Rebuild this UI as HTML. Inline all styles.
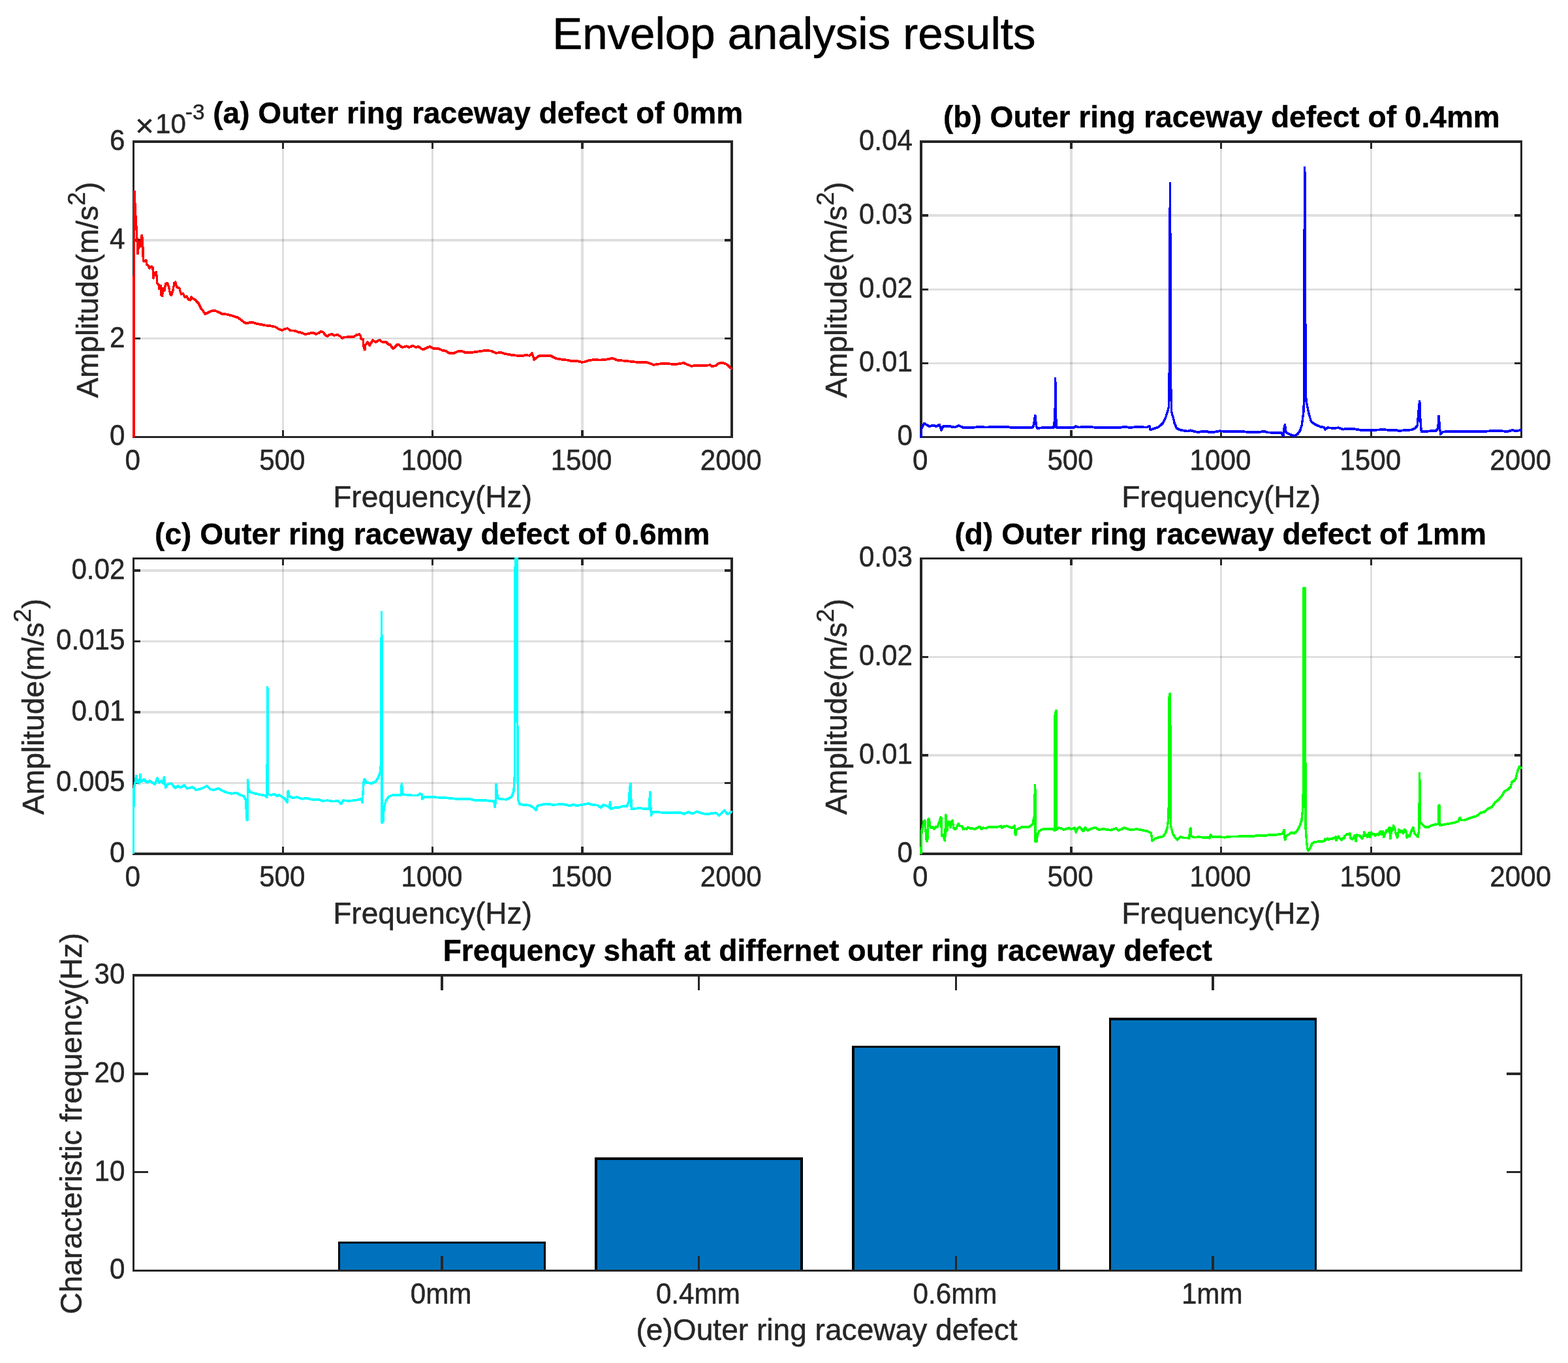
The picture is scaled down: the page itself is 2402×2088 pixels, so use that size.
<!DOCTYPE html>
<html lang="en"><head><meta charset="utf-8"><title>Envelop analysis results</title>
<style>
html,body{margin:0;padding:0;background:#fff;}
body{width:2402px;height:2088px;}
svg{display:block;}
text{font-family:"Liberation Sans",sans-serif;fill:#262626;stroke:#262626;stroke-width:0.5px;stroke-linejoin:round;}
.tk{font-size:42.20px;}
.lb{font-size:46.10px;}
.tt{font-size:46.10px;font-weight:bold;fill:#000;stroke:#000;stroke-width:0.4px;}
.st{font-size:69.00px;fill:#000;stroke:#000;stroke-width:0.7px;}
.sp{font-size:33.40px;}
.sl{font-size:37.50px;}
.ax{fill:#262626;shape-rendering:crispEdges;}
.gr{fill:#262626;fill-opacity:0.15;shape-rendering:crispEdges;}
.cv{fill:none;stroke-width:3.8;stroke-linejoin:round;stroke-linecap:round;shape-rendering:crispEdges;}
.cs{fill:none;stroke-width:3.4;stroke-linejoin:bevel;stroke-linecap:round;shape-rendering:crispEdges;}
</style></head><body>
<svg width="2402" height="2088" viewBox="0 0 2402 2088" role="img" aria-label="Envelop analysis results">
<rect x="0" y="0" width="2402" height="2088" fill="#ffffff"/>
<text class="st" x="846.2" y="75">Envelop analysis results</text>
<g id="plot-a">
<path class="gr" d="M432 219H435V668H432ZM661 219H664V668H661ZM890 219H894V668H890Z"/>
<path class="gr" d="M206 517H1119V520H206ZM206 366H1119V370H206Z"/>
<path class="ax" d="M203 215H1123V219H203ZM203 668H1123V671H203ZM203 215H206V671H203ZM1119 215H1123V671H1119ZM432 659H435V668H432ZM432 219H435V228H432ZM661 659H664V668H661ZM661 219H664V228H661ZM890 659H894V668H890ZM890 219H894V228H890ZM206 517H215V520H206ZM1110 517H1119V520H1110ZM206 366H215V370H206ZM1110 366H1119V370H1110Z"/>
<clipPath id="clip-a"><rect x="203" y="215" width="920" height="456"/></clipPath>
<g clip-path="url(#clip-a)">
<path class="cv" stroke="#ff0000" d="M219.8 400L221.8 400.5L223.8 398.9M224.6 405L227.4 407.2L229 411.1L232.4 408.3L234.1 410M236.9 418.4L239.1 416.7M240.8 434L243 436.2M246.9 451.9L248.6 453.5M249.7 441.8L251.9 445.2M253.6 434.6L256.4 433.5L258.6 439.6M260.8 450.8L262.5 451.9L264.8 445.2M267 433.5L268.7 432.3M270.9 439.6L274.8 441.8M277.6 450.8L280.4 449.6L283.2 455.2L286 454.1L288.8 458.6L291.5 459.7L293 455.2L296 457.5L299.4 459.7L303.8 464.2L307.7 472L311.1 476.4L314.4 481.2L320 478.1L326.2 475.6L330 475.9L337.5 479.6L340 480.7L347.4 481.6L356.8 484L364.2 486.4L369.8 490.5L375.4 494.8L380 494.8L384.7 493.7L389.4 494.6L394 496.1L399.6 496.9L404.2 498.2L410.8 498.9L416.4 499.6L421.9 500.8L427.5 504.5L432.2 505.8L436.8 503.7L440.6 503.2L445.2 506.4L451.7 506.7L456.4 508.6L462 509.7L467.6 512.1L472.2 511.2L476.9 509.9L480.6 510.1L484.3 511.9L489 509.7L491.8 507.8L494.9 508.6L497.9 512.9L501.1 515.3L504.8 512.7L508.5 511.9L512.3 513.8L516.9 512.7L520.6 514.9L524.4 517.9L528.1 516.6L533.7 516.2L542.1 515.7L545.8 513.4L550.4 511.9L552.3 514.7L553.2 519.4L556 519.4M559.7 528.7L563.1 524L566.3 529.1L570.9 521.3L575.6 524L581.2 520.9L585.8 524L591.4 524L595.1 527.4L597.9 528.3L601.6 533.9L604.4 532.8L608.2 527.8L611 528.1L615.6 531.9L619.3 531.5L622.5 530.2L626.8 532.1L632.4 529.6L637 532.1L640.8 530.9L646.3 534.8L650.1 534.8L654.7 532.4L658.4 530.9L664 533.7L670.6 533.7L677.1 536.5L682.7 537.6L688.2 541L694.8 541.2L702.2 538L706.9 537.6L712.5 539.9L721.8 539.9L724.7 539.6L735 538.2L744.2 536.8L752.4 537.6L759.6 540.7L767.9 540L774 542.1L784.3 543.9L792.5 544.8L800.8 545.4L804.9 543.7L811 544.8L815.2 541.3M818.2 550.9L825.4 545.4L833.7 545.2L843.9 545.2L852.2 549.3L862.4 550.9L870.7 551.8L874.8 553L882 552.6L891.2 554.8L895.3 554.4L902.5 552L911.8 550.9L919 551.6L928.2 550.7L938.5 548.9L945.7 551.8L957 552.8L967.3 553.8L975.5 554.8L989.9 554.8L1001.2 558.8L1008.4 557.7L1018.7 556.7L1029 557.7L1037.2 557.7L1047.5 556.1L1058.8 560.8L1068.1 559.8L1082.5 559.8L1088.2 559.2L1090.7 561.6L1096.9 559.8L1099.9 557.1L1106.1 555.5L1113.3 558.1L1120.5 564.7"/>
<path class="cs" stroke="#ff0000" d="M204.7 423L204.9 669.5L205.9 292L207.5 324.6L208.6 342.5L209.5 358.1L210.4 374.9L211 389.9L212.3 377.1L213.4 369.3L214.9 379.3L216.2 367.1L217.3 359.5L218.7 369.3L219 391.6L219.8 400M223.8 398.9L224.6 405M234.1 410L234.6 427.3L236.9 418.4M239.1 416.7L240.2 424L240.8 434M243 436.2L244.1 444.1L245.8 436.2L246.9 451.9M248.6 453.5L249.7 441.8M251.9 445.2L253.6 434.6M258.6 439.6L260.8 450.8M264.8 445.2L267 433.5M268.7 432.3L270.9 439.6M274.8 441.8L277.6 450.8M556 519.4L557 530.6L558.8 537.1L559.7 528.7M815.2 541.3L818.2 550.9"/>
</g>
<text class="tk" transform="translate(203.2 719.7) scale(1 1.045)" text-anchor="middle">0</text>
<text class="tk" transform="translate(432.32 719.7) scale(1 1.045)" text-anchor="middle">500</text>
<text class="tk" transform="translate(661.45 719.7) scale(1 1.045)" text-anchor="middle">1000</text>
<text class="tk" transform="translate(890.58 719.7) scale(1 1.045)" text-anchor="middle">1500</text>
<text class="tk" transform="translate(1119.7 719.7) scale(1 1.045)" text-anchor="middle">2000</text>
<text class="tk" transform="translate(191.5 682.4) scale(1 1.045)" text-anchor="end">0</text>
<text class="tk" transform="translate(191.5 531.57) scale(1 1.045)" text-anchor="end">2</text>
<text class="tk" transform="translate(191.5 380.73) scale(1 1.045)" text-anchor="end">4</text>
<text class="tk" transform="translate(191.5 229.9) scale(1 1.045)" text-anchor="end">6</text>
<text class="lb" x="510.2" y="776.9">Frequency(Hz)</text>
<text class="lb" transform="translate(149.7 444.05) rotate(-90)" text-anchor="middle">Amplitude(m/s<tspan class="sl" dy="-19.6">2</tspan><tspan dy="19.6">)</tspan></text>
<text class="tt" x="326.2" y="188.9">(a) Outer ring raceway defect of 0mm</text>
<text class="tk"><tspan x="207.3" y="209" font-size="49">×</tspan><tspan x="238" y="203.5">10</tspan><tspan class="sp" x="283.8" y="183">-3</tspan></text>
</g>
<g id="plot-b">
<path class="gr" d="M1639 219H1643V668H1639ZM1869 219H1872V668H1869ZM2099 219H2102V668H2099Z"/>
<path class="gr" d="M1413 555H2329V558H1413ZM1413 442H2329V445H1413ZM1413 328H2329V332H1413Z"/>
<path class="ax" d="M1409 215H2332V219H1409ZM1409 668H2332V671H1409ZM1409 215H1413V671H1409ZM2329 215H2332V671H2329ZM1639 659H1643V668H1639ZM1639 219H1643V228H1639ZM1869 659H1872V668H1869ZM1869 219H1872V228H1869ZM2099 659H2102V668H2099ZM2099 219H2102V228H2099ZM1413 555H1422V558H1413ZM2320 555H2329V558H2320ZM1413 442H1422V445H1413ZM2320 442H2329V445H2320ZM1413 328H1422V332H1413ZM2320 328H2329V332H2320Z"/>
<clipPath id="clip-b"><rect x="1409" y="215" width="923" height="456"/></clipPath>
<g clip-path="url(#clip-b)">
<path class="cv" stroke="#0000ff" d="M1411.8 655.9L1415.7 648.5L1423.6 653.2L1430.2 651.4L1434.1 653.2L1439.3 650.6M1442 659L1444.6 653.2L1452.5 652.7L1462.9 654.6L1468.7 651.9L1476.1 655.3L1489.2 655.1L1499.7 653.8L1510.2 654.6L1525.9 653.8L1541.6 653.8L1552.1 655.3L1567.9 655.1L1582.3 654.6L1583.6 650.6M1587.5 653.2L1589.4 655.9L1599.3 655.1L1613.8 655.3M1617.95 654.6L1628.2 655.1L1643.9 655.3L1647.9 653.2L1651.8 654.6L1667.5 653.8L1683.3 655.3L1701.6 655.1L1714.7 655.1L1723.9 653.8L1730.5 655.1L1741 654L1756.7 654.6L1760.6 652.7L1762.5 658.5L1767.2 656.7L1775.1 654L1781.6 648L1785.5 640.1M1799.2 648L1802.6 656.4L1809.2 659L1819.6 660.6L1823.6 659.3L1830.1 661.1L1835.4 661.9L1843.2 660.9L1859 661.9L1850 661.6L1860.5 661.6L1868.4 660.3L1881.5 661.1L1902.5 661.1L1912.9 661.9L1928.7 661.9L1936.6 660.6L1941.8 662.4L1954.9 663L1962.8 663L1965.9 667.7M1967.2 655.9L1968.5 650.6M1970.1 662.4L1975.9 665.6L1982.4 667.7L1987.7 665.1L1991.6 659.8M2008.7 645.9L2015.2 650.6L2023.1 653.8L2028.3 654.6L2029.9 658L2033.6 655.3L2044.1 655.9L2050.6 655.3L2057.2 657.7L2065.1 656.7L2075.6 657.4L2086 659L2099.2 659L2112.3 658.5L2117.5 657.7L2128 659L2138.5 659L2143.8 660.1L2151.6 659L2162.1 658.5L2167.4 656.4L2171.3 651.9M2177.3 661.1L2183.1 661.1L2191 660.3L2200.1 659.8L2202.8 655.9M2206.7 665.1L2210.6 661.6L2217.2 661.1L2230.3 661.1L2243.4 661.1L2256.5 661.1L2269.6 661.1L2282.8 660.3L2295.9 659.8L2309 661.1L2316.9 659L2322.1 660.3L2330 659"/>
<path class="cs" stroke="#0000ff" d="M1411 669L1411.8 655.9M1439.3 650.6L1442 659M1583.6 650.6L1585.7 635.4L1587.5 653.2M1613.8 655.3L1616.1 640.1L1616.6 577.7L1617.4 603.4L1617.95 654.6M1785.5 640.1L1790.3 624.4L1791.05 590.3L1791.6 524.7L1792 367.4L1792.4 279.5L1792.8 356.9L1793.15 509L1793.7 590.3L1794.5 629.6L1799.2 648M1965.9 667.7L1967.2 655.9M1968.5 650.6L1970.1 662.4M1991.6 659.8L1994.3 650.6L1997.1 629.6L1997.65 590.3L1998.05 446L1998.4 255.1L1999.2 270.3L1999.6 446L2000.15 577.2L2000.9 613.9L2005.3 634.9L2008.7 645.9M2171.3 651.9L2173.1 629.6L2174.7 613.4L2176 645.4L2177.3 661.1M2202.8 655.9L2204.1 636.2L2205.6 655.9L2206.7 665.1"/>
</g>
<text class="tk" transform="translate(1409.7 719.7) scale(1 1.045)" text-anchor="middle">0</text>
<text class="tk" transform="translate(1639.58 719.7) scale(1 1.045)" text-anchor="middle">500</text>
<text class="tk" transform="translate(1869.45 719.7) scale(1 1.045)" text-anchor="middle">1000</text>
<text class="tk" transform="translate(2099.32 719.7) scale(1 1.045)" text-anchor="middle">1500</text>
<text class="tk" transform="translate(2329.2 719.7) scale(1 1.045)" text-anchor="middle">2000</text>
<text class="tk" transform="translate(1398 682.4) scale(1 1.045)" text-anchor="end">0</text>
<text class="tk" transform="translate(1398 569.27) scale(1 1.045)" text-anchor="end">0.01</text>
<text class="tk" transform="translate(1398 456.15) scale(1 1.045)" text-anchor="end">0.02</text>
<text class="tk" transform="translate(1398 343.02) scale(1 1.045)" text-anchor="end">0.03</text>
<text class="tk" transform="translate(1398 229.9) scale(1 1.045)" text-anchor="end">0.04</text>
<text class="lb" x="1718.2" y="776.9">Frequency(Hz)</text>
<text class="lb" transform="translate(1297 444.05) rotate(-90)" text-anchor="middle">Amplitude(m/s<tspan class="sl" dy="-19.6">2</tspan><tspan dy="19.6">)</tspan></text>
<text class="tt" x="1444.9" y="194.9">(b) Outer ring raceway defect of 0.4mm</text>
</g>
<g id="plot-c">
<path class="gr" d="M432 857H435V1306H432ZM661 857H664V1306H661ZM890 857H894V1306H890Z"/>
<path class="gr" d="M206 1198H1119V1201H206ZM206 1089H1119V1093H206ZM206 981H1119V984H206ZM206 872H1119V876H206Z"/>
<path class="ax" d="M203 854H1123V857H203ZM203 1306H1123V1310H203ZM203 854H206V1310H203ZM1119 854H1123V1310H1119ZM432 1297H435V1306H432ZM432 857H435V866H432ZM661 1297H664V1306H661ZM661 857H664V866H661ZM890 1297H894V1306H890ZM890 857H894V866H890ZM206 1198H215V1201H206ZM1110 1198H1119V1201H1110ZM206 1089H215V1093H206ZM1110 1089H1119V1093H1110ZM206 981H215V984H206ZM1110 981H1119V984H1110ZM206 872H215V876H206ZM1110 872H1119V876H1110Z"/>
<clipPath id="clip-c"><rect x="203" y="854" width="920" height="456"/></clipPath>
<g clip-path="url(#clip-c)">
<path class="cv" stroke="#00ffff" d="M210.5 1198.8L212 1194.8L213.6 1200.1M216.2 1197.5L220.2 1193.5L225.4 1198.8L229.3 1196.1L233.3 1198.8L237.2 1201.4L241.1 1192.2L243.8 1198.8L247.2 1196.1L250.3 1200.1M253.7 1206.6L256.9 1201.4L262.1 1200.1L268.7 1207.4L272.6 1204L276.6 1206.6L281.8 1203.2L287 1207.9L294.9 1205.8L300.2 1210L306.7 1208.7L312 1206.6L317.2 1204L322.4 1209.3L327.7 1210L334.3 1207.9L340.8 1211.4L347.4 1214L355.2 1215.8L361.8 1214.5L368.3 1217.9L373.6 1219.7L376.2 1225M378.3 1256.5L379.4 1255.2M380.9 1207.9L382.8 1213.2L389.3 1215.3L397.2 1217.1L405.1 1218.4L408.75 1221.1M410.7 1217.1L415.6 1217.9L420.8 1216.6L424.7 1219.7L427.4 1217.6L432.6 1221.1L436.5 1223.7L439.9 1228.9M443.1 1219.7L448.3 1222.4L454.9 1221.1L462.8 1223.7L470.6 1222.9L478.5 1225L486.4 1224.5L494.2 1226.8L502.1 1226.3L510 1227.6L517.8 1227.1L522.6 1231.5L525.7 1226.3L533.6 1226.8L541.5 1226.3L549.3 1225L553.3 1223.7L555.1 1228.9M557.2 1197.5L558.5 1193.5L561.1 1198.8L569 1200.1L575.5 1197.5L579.5 1190.9L583.05 1181.7M585.15 1260.4L586.8 1257.8M590.8 1227.6L595.2 1220.5L601.8 1217.9L609.6 1217.9L614.4 1217.9M616.7 1217.1L622.8 1217.6L630.6 1218.4L638.5 1218.4L640 1218.4L643.9 1215.8L645.8 1217.1M647.1 1223.7L650.5 1221.1L662.3 1221.1L674.1 1221.8L687.2 1222.6L697.7 1223.7L708.2 1223.7L718.7 1223.7L729.2 1226.3L739.7 1225.8L750.2 1226.8L756.7 1227.6M763.3 1223.2L768.5 1224.2L775.1 1224.7L780.3 1222.9L784.3 1219.7L786.9 1211.9M789.35 854L792.25 854M796.1 1232.1L802.6 1232.9L810.5 1233.6L815.7 1236L821 1240.7L823.6 1234.2L828.8 1232.9L836.7 1231.5L847.2 1232.9L857.7 1232.1L862.9 1232.1L873.4 1234.2L878.7 1232.3L882.6 1234.2L891.8 1232.9L901 1231L907.5 1232.9L915.4 1233.6L920.1 1237.3L924.6 1232.9L931.1 1235.5L933.8 1237.3M935.6 1239.4L941.6 1237.3L949.5 1236.8L954.7 1234.7L960 1235.5L963.1 1228.9M967.3 1239.4L973.1 1238.6L981 1238.1L988.8 1239.4L994.1 1238.9M997.5 1249.4L999.3 1244.1L1007.2 1243.9L1017.7 1245.2L1028.2 1244.7L1041.3 1244.7L1047.8 1246.8L1054.4 1244.1L1061 1246.5L1067.5 1243.3L1075.4 1246L1083.2 1247.3L1091.1 1246L1096.4 1245.2L1101.6 1249.1L1109.5 1241.5L1114.7 1247.3L1120.5 1243.9"/>
<path class="cs" stroke="#00ffff" d="M204.4 1306.3L204.55 1276.1L204.8 1239.4L205.05 1207.9L207.3 1197.5L208.9 1187L210.5 1198.8M213.6 1200.1L214.9 1185.6L216.2 1197.5M250.3 1200.1L251.4 1188.8L252.4 1198.8L253.7 1206.6M376.2 1225L377.5 1244.7L378.3 1256.5M379.4 1255.2L379.6 1193.5L380.9 1207.9M408.75 1221.1L409.25 1166L409.8 1050.6L410.3 1131.9L410.7 1217.1M439.9 1228.9L441.3 1210.6L443.1 1219.7M555.1 1228.9L556.1 1213.2L557.2 1197.5M583.05 1181.7L583.7 1147.6L584.1 992.9L584.5 936.5L584.9 982.4L585.15 1260.4M586.8 1257.8L588.1 1239.4L590.8 1227.6M614.4 1217.9L615.4 1198.8L616.7 1217.1M645.8 1217.1L647.1 1223.7M756.7 1227.6L758.5 1238.1L759.6 1218.4L760.1 1200.1L761.4 1215.8L763.3 1223.2M786.9 1211.9L788.4 1187L788.8 1118.8L789.1 880.1L789.35 854M792.25 854L792.5 950.9L792.9 1158.1L793.4 1223.7L796.1 1232.1M933.8 1237.3L934.5 1226.8L935.6 1239.4M963.1 1228.9L964.7 1207.9L966 1198.8L966.8 1223.7L967.3 1239.4M994.1 1238.9L994.9 1226.3L995.9 1211.9L996.7 1234.2L997.5 1249.4"/>
</g>
<text class="tk" transform="translate(203.2 1358.2) scale(1 1.045)" text-anchor="middle">0</text>
<text class="tk" transform="translate(432.32 1358.2) scale(1 1.045)" text-anchor="middle">500</text>
<text class="tk" transform="translate(661.45 1358.2) scale(1 1.045)" text-anchor="middle">1000</text>
<text class="tk" transform="translate(890.58 1358.2) scale(1 1.045)" text-anchor="middle">1500</text>
<text class="tk" transform="translate(1119.7 1358.2) scale(1 1.045)" text-anchor="middle">2000</text>
<text class="tk" transform="translate(191.5 1320.9) scale(1 1.045)" text-anchor="end">0</text>
<text class="tk" transform="translate(191.5 1212.39) scale(1 1.045)" text-anchor="end">0.005</text>
<text class="tk" transform="translate(191.5 1103.87) scale(1 1.045)" text-anchor="end">0.01</text>
<text class="tk" transform="translate(191.5 995.36) scale(1 1.045)" text-anchor="end">0.015</text>
<text class="tk" transform="translate(191.5 886.85) scale(1 1.045)" text-anchor="end">0.02</text>
<text class="lb" x="510.2" y="1415.4">Frequency(Hz)</text>
<text class="lb" transform="translate(66.6 1082.55) rotate(-90)" text-anchor="middle">Amplitude(m/s<tspan class="sl" dy="-19.6">2</tspan><tspan dy="19.6">)</tspan></text>
<text class="tt" x="237.1" y="833.7">(c) Outer ring raceway defect of 0.6mm</text>
</g>
<g id="plot-d">
<path class="gr" d="M1639 857H1643V1306H1639ZM1869 857H1872V1306H1869ZM2099 857H2102V1306H2099Z"/>
<path class="gr" d="M1413 1155H2329V1159H1413ZM1413 1005H2329V1008H1413Z"/>
<path class="ax" d="M1409 854H2332V857H1409ZM1409 1306H2332V1310H1409ZM1409 854H1413V1310H1409ZM2329 854H2332V1310H2329ZM1639 1297H1643V1306H1639ZM1639 857H1643V866H1639ZM1869 1297H1872V1306H1869ZM1869 857H1872V866H1869ZM2099 1297H2102V1306H2099ZM2099 857H2102V866H2099ZM1413 1155H1422V1159H1413ZM2320 1155H2329V1159H2320ZM1413 1005H1422V1008H1413ZM2320 1005H2329V1008H2320Z"/>
<clipPath id="clip-d"><rect x="1409" y="854" width="923" height="456"/></clipPath>
<g clip-path="url(#clip-d)">
<path class="cv" stroke="#00ff00" d="M1412.1 1271.7L1413.6 1267.8M1415 1258.1L1416.7 1257.2M1418.9 1284.3L1419.9 1288.7L1420.9 1284.3M1421.5 1259.1L1422.5 1254.2L1423.8 1259.1M1424.7 1265.9L1426.7 1268.3L1429.1 1267.3L1431 1269.8L1433.5 1266.4L1435.9 1266.9L1437.8 1262L1439.8 1258.1L1440.7 1252.1L1441.9 1253.3M1442.7 1280.4L1444.1 1278.5L1445.6 1282.4L1447.2 1287.7M1448.5 1248.4L1449.5 1249.4M1450 1272.7L1450.9 1271.7M1451.9 1259.1L1453.8 1258.6M1457.2 1259.1L1459.2 1257.2M1460.6 1267.8L1462.1 1270.3L1464.5 1269.8L1466.9 1263.9L1468.6 1262L1470.3 1265.4L1473.7 1265.9L1475.7 1270.3L1478.6 1269.3L1481 1269.8L1482.4 1267.3L1485.4 1268.8L1489.2 1268.8L1493.1 1270.3L1497 1268.3L1500.9 1266.4L1503.3 1270.3L1505.7 1268.3L1510.6 1268.8L1514.5 1266.7L1520.3 1266.7L1525.1 1267.3L1530 1266.4L1533.4 1265.4L1534.8 1268.3L1537.7 1265.9L1542.6 1265.4L1547.4 1267.3L1549.9 1268.3L1552.8 1266.4L1554.2 1264.9M1555.2 1276.6L1556 1279M1557.1 1270.7L1561 1269.3L1564.9 1266.9L1570.7 1266.9L1575.6 1266.9L1579.4 1264.9L1581.9 1262.5M1583.3 1256.2L1584.1 1255.2M1586.2 1289.2L1587.8 1289.2M1589.4 1278.8L1592 1273L1596.7 1270.4L1607.2 1269.6L1613.8 1269.6L1615.6 1272.2M1618.5 1270.9L1621.6 1268.3L1625.6 1268.8L1629.5 1270.9L1633.4 1269.6L1637.4 1268.3L1641.3 1270.4L1646 1268.3L1648.4 1274.8L1650.5 1268.8L1653.9 1267L1657 1270.4L1659.7 1273.5L1662.3 1267.7L1666.2 1272.2L1671.5 1269.6L1678 1267.5L1683.3 1271.4L1689.8 1269.6L1695.1 1270.9L1701.6 1271.7L1709.5 1268.8L1713.4 1272.2L1722.1 1268.3L1731.8 1271.4L1741 1270.1L1748.8 1271.4L1758 1273.5L1763.3 1276.1M1765.1 1287.9L1769.8 1284.5L1775.1 1282.7L1781.6 1281.4L1785.5 1276.1L1788.2 1268.3M1796.6 1277.4L1800 1282.7L1803.4 1286.6L1807.8 1281.9L1813.1 1283.5L1819.6 1283.5L1821.7 1284.5M1822.8 1270.4L1824.1 1268.8M1824.9 1281.4L1830.1 1282.7L1836.7 1282.2L1845.9 1283L1850 1282.7L1853.1 1284L1854.7 1278.8L1856.6 1281.9L1865.7 1281.9L1876.2 1282.7L1886.7 1281.4L1897.2 1281.4L1906.4 1280.9L1915.6 1281.4L1926.1 1280.1L1936.6 1280.1L1947 1278.8L1954.9 1278.8L1962.8 1277.4L1965.4 1276.7L1967 1271.4M1970.6 1280.1L1974.6 1278.2L1978.5 1275.3L1982.4 1276.7L1986.4 1273.5L1990.3 1267L1993.7 1257.8M1997 901.1L1999 901.1M2002.6 1299.8L2003.9 1303.2L2006 1300.8L2008.4 1296L2009.9 1292.1L2013.3 1290.1L2018.1 1289.4L2023 1289L2028.8 1288.5L2029.8 1285.3L2031.7 1286.3L2033.6 1284.3L2035.6 1286.1L2038.5 1284.8L2040.4 1285.3L2042.9 1283.8L2044.8 1284.3L2046.1 1281.9L2047 1287.7L2048.7 1282.4L2050.6 1281.4L2052.6 1284.8L2055 1287.2L2056.9 1283.8L2059.4 1284.3L2059.8 1280.9L2062.3 1278.5L2064.2 1277.5L2066.6 1278L2067.9 1276.6M2069 1283.8L2071.5 1285.8L2073.4 1283.8L2075.4 1279.5M2078.3 1279L2080.7 1279.5L2083.1 1280L2084.6 1282.4L2086.5 1284.8L2088.4 1281.4M2089.9 1274.6L2091.4 1280L2093.3 1278.5L2094.8 1282.4L2096.2 1277.5L2097.7 1275.6M2100.6 1275.1L2102.5 1278.5L2104.9 1277.5L2106.9 1280.4L2109.8 1277.5L2112.2 1279L2114.2 1273.6L2116.1 1278.5L2118 1273.6M2120 1282.4L2121.9 1276.6L2124.3 1271.7L2125.8 1272.7L2128.2 1267.8M2131.6 1268.8L2133.5 1271.7M2134.5 1264.9L2136.5 1268.8M2142.8 1270.7L2145.2 1274.6L2147.6 1272.7L2149.6 1276.6L2151.5 1270.7L2153.9 1273.6M2155.4 1282.9L2157.3 1279.5L2159.3 1281.4L2161.2 1275.6L2164.6 1267.8M2167 1276.6L2169.4 1279.5L2172.3 1281.9M2175.5 1260.4L2179.2 1263L2183.1 1267L2188.3 1267L2193.6 1264.3L2198.8 1263L2203.3 1262.5M2204.1 1234.2L2205.1 1234.2M2205.9 1264.3L2209.3 1263.8L2217.2 1262.2L2225.1 1260.9L2234.2 1258.3L2236.1 1252.5L2238.2 1256.5L2243.4 1256.5L2248.7 1254.4L2255.2 1252L2261.8 1250.4L2268.3 1245.2L2273.6 1243.9L2278.8 1239.4L2285.4 1236L2290.6 1228.9L2295.9 1225L2301.1 1218.4L2305.1 1211.9L2310.3 1209.3L2314.2 1205.3M2316.3 1197.5L2319.5 1196.1L2322.1 1192.2M2324.7 1181.7L2327.3 1174.4L2330 1176.5"/>
<path class="cs" stroke="#00ff00" d="M1411 1307.6L1411.2 1297.9L1411.4 1284.3L1412.1 1271.7M1413.6 1267.8L1415 1258.1M1416.7 1257.2L1417.9 1270.7L1418.9 1284.3M1420.9 1284.3L1421.5 1259.1M1423.8 1259.1L1424.7 1265.9M1441.9 1253.3L1442.3 1271.7L1442.7 1280.4M1447.2 1287.7L1448 1280.4L1448.3 1264.9L1448.5 1248.4M1449.5 1249.4L1450 1272.7M1450.9 1271.7L1451.9 1259.1M1453.8 1258.6L1455.8 1268.8L1457.2 1259.1M1459.2 1257.2L1460.6 1267.8M1554.2 1264.9L1555.2 1276.6M1556 1279L1557.1 1270.7M1581.9 1262.5L1583.3 1256.2M1584.1 1255.2L1584.9 1226.3L1585.7 1201.4L1586.1 1228.9L1586.2 1289.2M1587.8 1289.2L1589.4 1278.8M1615.6 1272.2L1615.85 1234.2L1616.1 1095.2L1617.95 1087.3L1618.25 1155.5L1618.5 1270.9M1763.3 1276.1L1765.1 1287.9M1788.2 1268.3L1790 1252.5L1790.55 1210.6L1790.9 1068.9L1792.4 1061.1L1792.8 1110.9L1793.15 1210.6L1793.55 1265.6L1796.6 1277.4M1821.7 1284.5L1822.8 1270.4M1824.1 1268.8L1824.9 1281.4M1967 1271.4L1968.5 1287.9L1970.6 1280.1M1993.7 1257.8L1995.8 1239.4L1996.35 1207.9L1996.75 1011.2L1997 901.1M1999 901.1L1999.5 914.2L1999.75 1134.5L2000 1268.3L2001.6 1288.2L2002.6 1299.8M2067.9 1276.6L2069 1283.8M2075.4 1279.5L2076.8 1290.1L2078.3 1279M2088.4 1281.4L2089.9 1274.6M2097.7 1275.6L2099.1 1283.8L2100.6 1275.1M2118 1273.6L2120 1282.4M2128.2 1267.8L2130.2 1285.8L2131.6 1268.8M2133.5 1271.7L2134.5 1264.9M2136.5 1268.8L2138.4 1277.5L2140.6 1284.3L2142.8 1270.7M2153.9 1273.6L2155.4 1282.9M2164.6 1267.8L2167 1276.6M2172.3 1281.9L2174 1268.8L2174.15 1236.8L2174.7 1183L2175.1 1221.1L2175.5 1260.4M2203.3 1262.5L2204.1 1234.2M2205.1 1234.2L2205.9 1264.3M2314.2 1205.3L2316.3 1197.5M2322.1 1192.2L2324.7 1181.7"/>
</g>
<text class="tk" transform="translate(1409.7 1358.2) scale(1 1.045)" text-anchor="middle">0</text>
<text class="tk" transform="translate(1639.58 1358.2) scale(1 1.045)" text-anchor="middle">500</text>
<text class="tk" transform="translate(1869.45 1358.2) scale(1 1.045)" text-anchor="middle">1000</text>
<text class="tk" transform="translate(2099.32 1358.2) scale(1 1.045)" text-anchor="middle">1500</text>
<text class="tk" transform="translate(2329.2 1358.2) scale(1 1.045)" text-anchor="middle">2000</text>
<text class="tk" transform="translate(1398 1320.9) scale(1 1.045)" text-anchor="end">0</text>
<text class="tk" transform="translate(1398 1170.07) scale(1 1.045)" text-anchor="end">0.01</text>
<text class="tk" transform="translate(1398 1019.23) scale(1 1.045)" text-anchor="end">0.02</text>
<text class="tk" transform="translate(1398 868.4) scale(1 1.045)" text-anchor="end">0.03</text>
<text class="lb" x="1718.2" y="1415.4">Frequency(Hz)</text>
<text class="lb" transform="translate(1297 1082.55) rotate(-90)" text-anchor="middle">Amplitude(m/s<tspan class="sl" dy="-19.6">2</tspan><tspan dy="19.6">)</tspan></text>
<text class="tt" x="1462.5" y="833.7">(d) Outer ring raceway defect of 1mm</text>
</g>
<g id="plot-e">
<path d="M518 1902H836V1948H518ZM911 1773H1230V1948H911ZM1305 1602H1624V1948H1305ZM1699 1559H2017V1948H1699Z" fill="#0072bd" shape-rendering="crispEdges"/>
<path d="M518 1902H836V1905H518ZM518 1902H521V1948H518ZM833 1902H836V1948H833ZM518 1945H836V1948H518ZM911 1773H1230V1777H911ZM911 1773H915V1948H911ZM1226 1773H1230V1948H1226ZM911 1945H1230V1948H911ZM1305 1602H1624V1605H1305ZM1305 1602H1309V1948H1305ZM1620 1602H1624V1948H1620ZM1305 1945H1624V1948H1305ZM1699 1559H2017V1563H1699ZM1699 1559H1702V1948H1699ZM2014 1559H2017V1948H2014ZM1699 1945H2017V1948H1699Z" fill="#000000" shape-rendering="crispEdges"/>
<path class="ax" d="M203 1492H2332V1496H203ZM203 1945H2332V1948H203ZM203 1492H206V1948H203ZM2329 1492H2332V1948H2329ZM675 1924H679V1945H675ZM675 1496H679V1517H675ZM1069 1924H1072V1945H1069ZM1069 1496H1072V1517H1069ZM1463 1924H1466V1945H1463ZM1463 1496H1466V1517H1463ZM1856 1924H1860V1945H1856ZM1856 1496H1860V1517H1856ZM206 1794H227V1797H206ZM2308 1794H2329V1797H2308ZM206 1643H227V1647H206ZM2308 1643H2329V1647H2308Z"/>
<text class="tk" transform="translate(675.64 1996.7) scale(1 1.045)" text-anchor="middle">0mm</text>
<text class="tk" transform="translate(1069.35 1996.7) scale(1 1.045)" text-anchor="middle">0.4mm</text>
<text class="tk" transform="translate(1463.05 1996.7) scale(1 1.045)" text-anchor="middle">0.6mm</text>
<text class="tk" transform="translate(1856.76 1996.7) scale(1 1.045)" text-anchor="middle">1mm</text>
<text class="tk" transform="translate(191.5 1959.4) scale(1 1.045)" text-anchor="end">0</text>
<text class="tk" transform="translate(191.5 1808.57) scale(1 1.045)" text-anchor="end">10</text>
<text class="tk" transform="translate(191.5 1657.73) scale(1 1.045)" text-anchor="end">20</text>
<text class="tk" transform="translate(191.5 1506.9) scale(1 1.045)" text-anchor="end">30</text>
<text class="lb" x="974.53" y="2052.9">(e)Outer ring raceway defect</text>
<text class="lb" transform="translate(124.8 1721.25) rotate(-90)" text-anchor="middle">Characteristic frequency(Hz)</text>
<text class="tt" x="678.7" y="1471.8">Frequency shaft at differnet outer ring raceway defect</text>
</g>
</svg>
</body></html>
